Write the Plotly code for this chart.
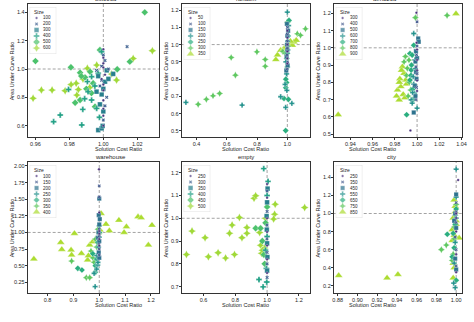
import plotly.graph_objects as go

# ---------------- data: solution cost ratio (x) and AUC ratio (y) per agent count ----------------
ost003d_sizes = [100, 200, 300, 400, 500, 600]
ost003d_cost = [
    [1.0, 1.0, 1.0, 1.001, 0.999, 1.0, 1.0, 1.0, 1.0, 1.0, 1.0, 1.0],
    [1.014, 0.999, 1.001, 1.0, 0.998, 1.002, 1.001, 0.999, 1.003, 0.996, 1.0],
    [0.997, 0.999, 0.9996, 1.0058, 0.998, 0.999, 1.0, 1.001, 0.997, 1.002, 0.996, 1.0, 1.003],
    [0.9707, 0.9746, 0.9795, 0.9873, 0.9879, 0.9906, 0.9931, 0.9931, 0.9961, 0.9977, 0.999, 0.991, 0.995, 0.989, 0.997],
    [0.96, 0.9809, 0.9834, 0.9863, 0.9863, 0.9892, 0.9922, 0.998, 1.0082, 1.0156, 1.0244, 0.9951, 0.99, 0.994, 0.987, 0.993],
    [0.9586, 0.9635, 0.9698, 0.9775, 0.984, 0.9844, 0.9853, 0.9906, 0.9961, 1.0049, 1.0078, 1.0176, 1.0289, 0.988, 0.992, 0.981],
]
ost003d_auc = [
    [1.14, 1.08, 1.01, 0.96, 0.93, 0.89, 0.85, 0.78, 0.72, 0.67, 0.60, 1.04],
    [1.158, 1.02, 1.06, 1.10, 0.88, 0.80, 0.74, 0.92, 1.00, 0.99, 0.64],
    [0.569, 0.581, 0.598, 0.965, 0.75, 0.82, 0.86, 0.91, 0.95, 0.99, 0.84, 0.70, 0.93],
    [0.628, 0.675, 0.856, 0.605, 0.715, 0.911, 0.946, 0.781, 0.722, 0.659, 1.122, 0.84, 0.88, 0.79, 0.97],
    [1.056, 1.012, 0.762, 0.781, 0.974, 0.941, 0.981, 1.134, 0.998, 1.052, 1.40, 0.734, 0.86, 0.90, 0.95, 0.83],
    [0.793, 0.852, 0.852, 0.847, 0.899, 0.816, 0.856, 1.005, 1.028, 0.965, 0.922, 1.075, 1.129, 0.93, 0.87, 0.89],
]

random_sizes = [50, 100, 150, 200, 250, 300, 350]
random_cost = [
    [1.0, 1.0, 1.0, 1.0, 1.0, 1.0],
    [1.0, 1.0, 0.998, 1.002, 1.0, 1.0, 0.999],
    [1.0, 0.995, 1.002, 0.998, 1.005, 0.993, 1.0, 0.997],
    [0.330, 0.701, 0.989, 1.030, 0.956, 0.985, 1.0, 0.995, 1.003, 0.990, 1.008, 0.997, 1.002],
    [0.989, 0.978, 1.007, 0.995, 0.990, 1.0, 1.011, 0.990, 1.0, 1.005, 0.996],
    [0.411, 0.465, 0.509, 0.553, 0.629, 0.657, 0.799, 0.854, 0.854, 1.066, 1.087, 1.120, 0.970, 1.0, 1.005, 0.985],
    [0.924, 0.935, 0.956, 0.978, 0.990, 1.015, 1.033, 1.044, 1.059, 1.020],
]
random_auc = [
    [1.0, 1.04, 0.96, 0.92, 1.08, 0.89],
    [1.10, 1.02, 0.94, 0.90, 0.98, 1.06, 0.86],
    [1.05, 0.93, 0.88, 1.00, 1.08, 0.85, 0.97, 1.12],
    [0.665, 0.650, 0.637, 0.660, 0.698, 0.770, 1.188, 0.830, 0.970, 0.900, 1.110, 0.735, 1.02],
    [0.502, 0.688, 0.683, 0.780, 0.800, 0.950, 1.140, 0.750, 0.870, 1.050, 0.92],
    [0.654, 0.683, 0.704, 0.717, 0.925, 0.823, 0.958, 0.913, 0.875, 1.063, 1.054, 1.092, 0.960, 1.130, 0.990, 0.950],
    [0.913, 0.940, 0.967, 0.977, 0.985, 1.000, 0.996, 1.015, 1.025, 1.020],
]

den520d_sizes = [300, 400, 500, 600, 700, 800, 900]
den520d_cost = [
    [0.9994, 0.994, 1.0, 1.0, 1.0, 1.0, 1.0, 0.9995],
    [1.0, 0.9995, 0.999, 1.0, 0.9995, 0.999, 1.0],
    [1.001, 1.0015, 0.999, 0.9985, 0.999, 0.998, 0.997, 1.0, 0.9995, 0.9985],
    [0.997, 1.0, 0.9965, 0.9977, 0.9947, 0.9956, 0.998, 0.997, 0.9985, 0.996],
    [0.997, 0.9906, 0.9936, 0.9956, 0.9947, 0.9936, 0.996, 0.995, 0.9965, 0.9945],
    [1.027, 0.9985, 0.9883, 0.9927, 0.9912, 0.9942, 0.9956, 0.9905, 0.993, 0.9895, 0.992],
    [0.929, 1.035, 0.9824, 0.9839, 0.9854, 0.9883, 0.9868, 0.9898, 0.9845, 0.9875, 0.9815, 0.986, 0.9905, 0.989, 0.984],
]
den520d_auc = [
    [1.204, 0.521, 0.99, 0.93, 0.87, 0.81, 0.75, 1.03],
    [1.01, 0.96, 0.89, 0.85, 0.77, 0.70, 1.15],
    [1.054, 1.035, 0.98, 0.92, 0.86, 0.78, 0.625, 0.94, 0.82, 0.72],
    [1.083, 0.65, 0.833, 0.737, 0.698, 0.679, 0.93, 0.79, 0.88, 0.74],
    [1.015, 0.612, 0.967, 0.958, 0.871, 0.813, 0.76, 0.90, 0.70, 0.84],
    [1.188, 1.175, 0.919, 0.929, 0.881, 0.756, 0.698, 0.84, 0.80, 0.95, 0.72],
    [0.612, 1.198, 0.756, 0.698, 0.775, 0.852, 0.89, 0.813, 0.82, 0.73, 0.72, 0.87, 0.79, 0.71, 0.80],
]

warehouse_sizes = [100, 150, 200, 250, 300, 350, 400]
warehouse_cost = [
    [0.999, 1.0, 1.0, 1.0, 1.0, 1.0],
    [1.0, 1.0, 1.0, 1.0, 0.999, 1.0, 1.0],
    [1.0, 0.998, 1.0, 0.995, 1.0, 0.998, 1.0, 0.997, 1.002],
    [0.984, 0.98, 0.994, 0.99, 0.997, 1.0, 1.0, 0.99, 0.995],
    [0.917, 0.933, 0.984, 0.975, 0.99, 0.995, 0.985, 1.0],
    [0.893, 0.95, 0.963, 0.968, 0.975, 0.985, 0.99, 0.98, 1.0, 0.995],
    [0.747, 0.851, 0.855, 0.891, 0.893, 0.904, 0.931, 0.955, 0.963, 0.975, 0.990, 1.003,
     1.007, 1.026, 1.039, 1.076, 1.105, 1.096, 1.150, 1.162, 1.190, 1.204, 0.958],
]
warehouse_auc = [
    [1.95, 1.30, 1.02, 0.90, 0.80, 0.98],
    [1.70, 1.535, 1.05, 0.95, 0.82, 0.75, 0.66],
    [1.51, 1.26, 1.12, 0.92, 0.87, 0.70, 0.62, 1.0, 1.20],
    [0.185, 0.385, 0.51, 0.65, 0.78, 0.93, 1.1, 0.45, 0.55],
    [0.46, 0.435, 0.40, 0.68, 0.60, 0.85, 0.50, 1.0],
    [0.57, 0.32, 0.32, 0.72, 0.62, 0.90, 0.78, 0.55, 0.98, 1.05],
    [0.60, 0.85, 0.745, 0.735, 0.66, 0.985, 0.685, 0.585, 0.81, 0.86, 0.885, 1.035,
     1.285, 1.125, 1.025, 1.185, 1.085, 1.0, 1.235, 1.22, 0.81, 1.11, 0.65],
]

empty_sizes = [250, 300, 350, 400, 450, 500]
empty_cost = [
    [1.0, 1.0, 1.0, 1.0, 1.0, 1.0, 1.0],
    [1.0, 1.0, 1.0, 0.999, 1.0, 1.0, 1.0],
    [1.0, 0.998, 1.0, 1.002, 0.997, 1.0, 1.003],
    [0.949, 0.975, 0.979, 1.006, 0.995, 1.0, 0.99, 1.0, 0.998],
    [0.928, 0.959, 0.97, 0.98, 0.99, 1.0, 0.985],
    [0.493, 0.528, 0.610, 0.631, 0.692, 0.739, 0.764, 0.780, 0.795, 0.826, 0.842, 0.873, 0.873,
     0.918, 0.928, 0.953, 0.959, 0.965, 0.990, 1.051, 1.047, 1.041, 1.236, 0.985, 0.970],
]
empty_auc = [
    [1.09, 1.0, 0.94, 0.88, 0.82, 0.76, 1.15],
    [1.12, 1.03, 0.97, 0.91, 0.85, 0.80, 0.74],
    [1.07, 0.95, 0.89, 0.83, 1.01, 0.77, 1.13],
    [0.731, 0.699, 1.218, 1.162, 0.78, 0.92, 0.86, 1.10, 0.72],
    [0.956, 0.956, 0.90, 0.84, 0.98, 1.05, 0.80],
    [0.841, 0.944, 0.915, 0.831, 0.849, 0.826, 0.934, 0.971, 0.841, 1.003, 0.915, 0.959, 0.934,
     1.088, 1.099, 0.938, 0.882, 0.846, 1.0, 1.062, 1.018, 0.997, 1.047, 0.87, 0.86],
]

city_sizes = [250, 350, 450, 550, 650, 750, 850]
city_cost = [
    [1.002, 1.0, 1.0, 1.0, 1.0, 1.0],
    [1.0, 1.0, 1.0, 1.0, 0.999, 1.0],
    [1.0, 0.999, 1.0, 0.999, 1.0, 0.998],
    [1.0, 0.999, 0.9975, 0.998, 1.0, 0.999, 1.0],
    [0.991, 0.996, 0.999, 0.998, 1.0, 0.997, 1.0],
    [0.985, 0.99, 0.997, 0.999, 0.998, 1.0, 0.996, 0.998],
    [0.881, 0.930, 0.941, 0.997, 1.003, 0.998, 0.999, 0.997, 1.0, 0.996, 0.998, 0.999,
     0.997, 0.998, 0.996, 1.0],
]
city_auc = [
    [1.37, 1.0, 0.80, 0.55, 0.35, 0.95],
    [1.12, 0.90, 0.60, 0.42, 0.74, 1.02],
    [1.21, 1.0, 0.84, 0.50, 0.38, 0.92],
    [1.49, 0.18, 0.23, 0.45, 0.95, 0.68, 1.18],
    [0.77, 0.52, 0.88, 0.62, 0.26, 0.78, 1.05],
    [0.60, 0.65, 0.55, 0.98, 0.85, 1.1, 0.48, 0.72],
    [0.313, 0.287, 0.325, 0.287, 0.73, 1.15, 1.08, 0.95, 0.88, 0.82, 0.76, 1.02,
     0.45, 0.40, 0.70, 0.92],
]

# ---------------- panel definitions ----------------
panels = [
    dict(title="ost003d", sizes=ost003d_sizes, cost=ost003d_cost, auc=ost003d_auc,
         xr=[0.9554, 1.0328], yr=[0.52, 1.459], xd=0.02, xf=".2f", yd=0.2, yf=".1f"),
    dict(title="random", sizes=random_sizes, cost=random_cost, auc=random_auc,
         xr=[0.302, 1.15], yr=[0.465, 1.235], xd=0.2, xf=".1f", yd=0.1, yf=".1f"),
    dict(title="den520d", sizes=den520d_sizes, cost=den520d_cost, auc=den520d_auc,
         xr=[0.925, 1.0405], yr=[0.483, 1.254], xd=0.02, xf=".2f", yd=0.1, yf=".1f"),
    dict(title="warehouse", sizes=warehouse_sizes, cost=warehouse_cost, auc=warehouse_auc,
         xr=[0.723, 1.231], yr=[0.089, 2.06], xd=0.1, xf=".1f", yd=0.25, yf=".2f"),
    dict(title="empty", sizes=empty_sizes, cost=empty_cost, auc=empty_auc,
         xr=[0.463, 1.27], yr=[0.672, 1.247], xd=0.2, xf=".1f", yd=0.1, yf=".1f"),
    dict(title="city", sizes=city_sizes, cost=city_cost, auc=city_auc,
         xr=[0.876, 1.006], yr=[0.12, 1.57], xd=0.02, xf=".2f", yd=0.2, yf=".1f"),
]

W, H = 474, 322
COLS = [(27, 160), (183, 313), (337, 467)]
ROWS = [(4, 137), (162, 293)]
FONT = "Liberation Sans, Arial, sans-serif"
INK = "#262626"

# seaborn-like marker cycle (o, X, square, P, diamond, 4-point star, ^)
# and how far each plotly symbol reaches relative to its size
SYMBOLS = ["circle", "x", "square", "cross", "diamond", "star-diamond", "triangle-up"]
EXTENT = [1.0, 1.15, 1.0, 1.2, 1.3, 1.4, 1.15]

VIRIDIS = ["#440154", "#482475", "#414487", "#355f8d", "#2a788e", "#21918c",
           "#22a884", "#44bf70", "#7ad151", "#bddf26", "#fde725"]


def viridis(t):
    t = min(max(t, 0.0), 1.0) * 10
    i = min(int(t), 9)
    f = t - i
    a = [int(VIRIDIS[i][k:k + 2], 16) for k in (1, 3, 5)]
    b = [int(VIRIDIS[i + 1][k:k + 2], 16) for k in (1, 3, 5)]
    c = [round(a[j] + (b[j] - a[j]) * f) for j in range(3)]
    return "rgb(%d,%d,%d)" % tuple(c)


def style(i, n):
    t = i / (n - 1)
    extent = 2.5 + 5.5 * t
    return SYMBOLS[i], extent / EXTENT[i], viridis((i + 1) / (n + 1))


def aid(k):
    return "" if k == 1 else str(k)


fig = go.Figure()
layout = dict(width=W, height=H, margin=dict(l=0, r=0, t=0, b=0),
              paper_bgcolor="white", plot_bgcolor="white", showlegend=False,
              font=dict(family=FONT, color=INK, size=6))
shapes, annotations = [], []

for j, p in enumerate(panels):
    r, c = divmod(j, 3)
    L, R = COLS[c]
    T, B = ROWS[r]
    k = aid(j + 1)
    kl = aid(j + 7)
    n = len(p["sizes"])

    axis_common = dict(showline=True, mirror=True, linecolor="#333333", linewidth=0.8,
                       ticks="outside", ticklen=2, tickwidth=0.7, tickcolor="#333333",
                       showgrid=False, zeroline=False, ticklabelstandoff=-1,
                       tickfont=dict(size=5.5, color=INK, family=FONT))
    layout["xaxis" + k] = dict(axis_common, domain=[L / W, R / W], range=p["xr"],
                               dtick=p["xd"], tick0=0, tickformat=p["xf"],
                               anchor="y" + k)
    layout["yaxis" + k] = dict(axis_common, domain=[1 - B / H, 1 - T / H], range=p["yr"],
                               dtick=p["yd"], tick0=0, tickformat=p["yf"],
                               anchor="x" + k)

    # reference lines at ratio 1.0
    dash = dict(color="#8c8c8c", width=0.8, dash="3px,2px")
    shapes.append(dict(type="line", xref="x" + k, yref="y" + k + " domain",
                       x0=1.0, x1=1.0, y0=0, y1=1, line=dash, layer="below"))
    shapes.append(dict(type="line", xref="x" + k + " domain", yref="y" + k,
                       x0=0, x1=1, y0=1.0, y1=1.0, line=dash, layer="below"))

    # scatter groups, largest first so the small markers stay visible
    for i in reversed(range(n)):
        sym, sz, col = style(i, n)
        fig.add_trace(go.Scatter(
            x=p["cost"][i], y=p["auc"][i], mode="markers",
            marker=dict(symbol=sym, size=sz, color=col,
                        line=dict(width=0.3, color="white")),
            xaxis="x" + k, yaxis="y" + k, hoverinfo="skip"))

    # legend drawn on a small hidden subplot: one row per agent count
    top_units = 11 / 6
    hh = 6 * n + 11
    layout["xaxis" + kl] = dict(domain=[(L + 2) / W, (L + 29) / W], range=[0, 27],
                                visible=False, fixedrange=True, anchor="y" + kl)
    layout["yaxis" + kl] = dict(domain=[1 - (T + 3 + hh) / H, 1 - (T + 3) / H],
                                range=[n, -top_units], visible=False, fixedrange=True,
                                anchor="x" + kl)
    shapes.append(dict(type="rect", xref="x" + kl, yref="y" + kl,
                       x0=0, x1=27, y0=-top_units, y1=n,
                       fillcolor="white", line=dict(color="#d4d4d4", width=0.7),
                       layer="below"))
    styles = [style(i, n) for i in range(n)]
    fig.add_trace(go.Scatter(
        x=[7] * n, y=list(range(n)), mode="markers",
        marker=dict(symbol=[s[0] for s in styles], size=[s[1] for s in styles],
                    color=[s[2] for s in styles], line=dict(width=0.3, color="white")),
        xaxis="x" + kl, yaxis="y" + kl, hoverinfo="skip"))
    annotations.append(dict(xref="x" + kl, yref="y" + kl, x=2.5, y=-1.0,
                            text="Size", showarrow=False, xanchor="left", yanchor="middle",
                            font=dict(size=5, color=INK, family=FONT)))
    for i, s in enumerate(p["sizes"]):
        annotations.append(dict(xref="x" + kl, yref="y" + kl, x=12, y=i,
                                text=str(s), showarrow=False, xanchor="left",
                                yanchor="middle",
                                font=dict(size=4.5, color=INK, family=FONT)))

    # panel title and axis labels
    cx = (L + R) / 2 / W
    annotations.append(dict(xref="paper", yref="paper", x=cx, y=1 - (T - 0.5) / H,
                            text=p["title"], showarrow=False, yanchor="bottom",
                            font=dict(size=6, color=INK, family=FONT)))
    annotations.append(dict(xref="paper", yref="paper", x=cx, y=1 - (B + 12) / H,
                            text="Solution Cost Ratio", showarrow=False, yanchor="middle",
                            font=dict(size=5.5, color=INK, family=FONT)))
    annotations.append(dict(xref="paper", yref="paper", x=(L - 16) / W,
                            y=1 - (T + B) / 2 / H, text="Area Under Curve Ratio",
                            showarrow=False, textangle=-90, xanchor="center",
                            yanchor="middle",
                            font=dict(size=5.5, color=INK, family=FONT)))

layout["shapes"] = shapes
layout["annotations"] = annotations
fig.update_layout(**layout)
fig.write_html("out.html")
